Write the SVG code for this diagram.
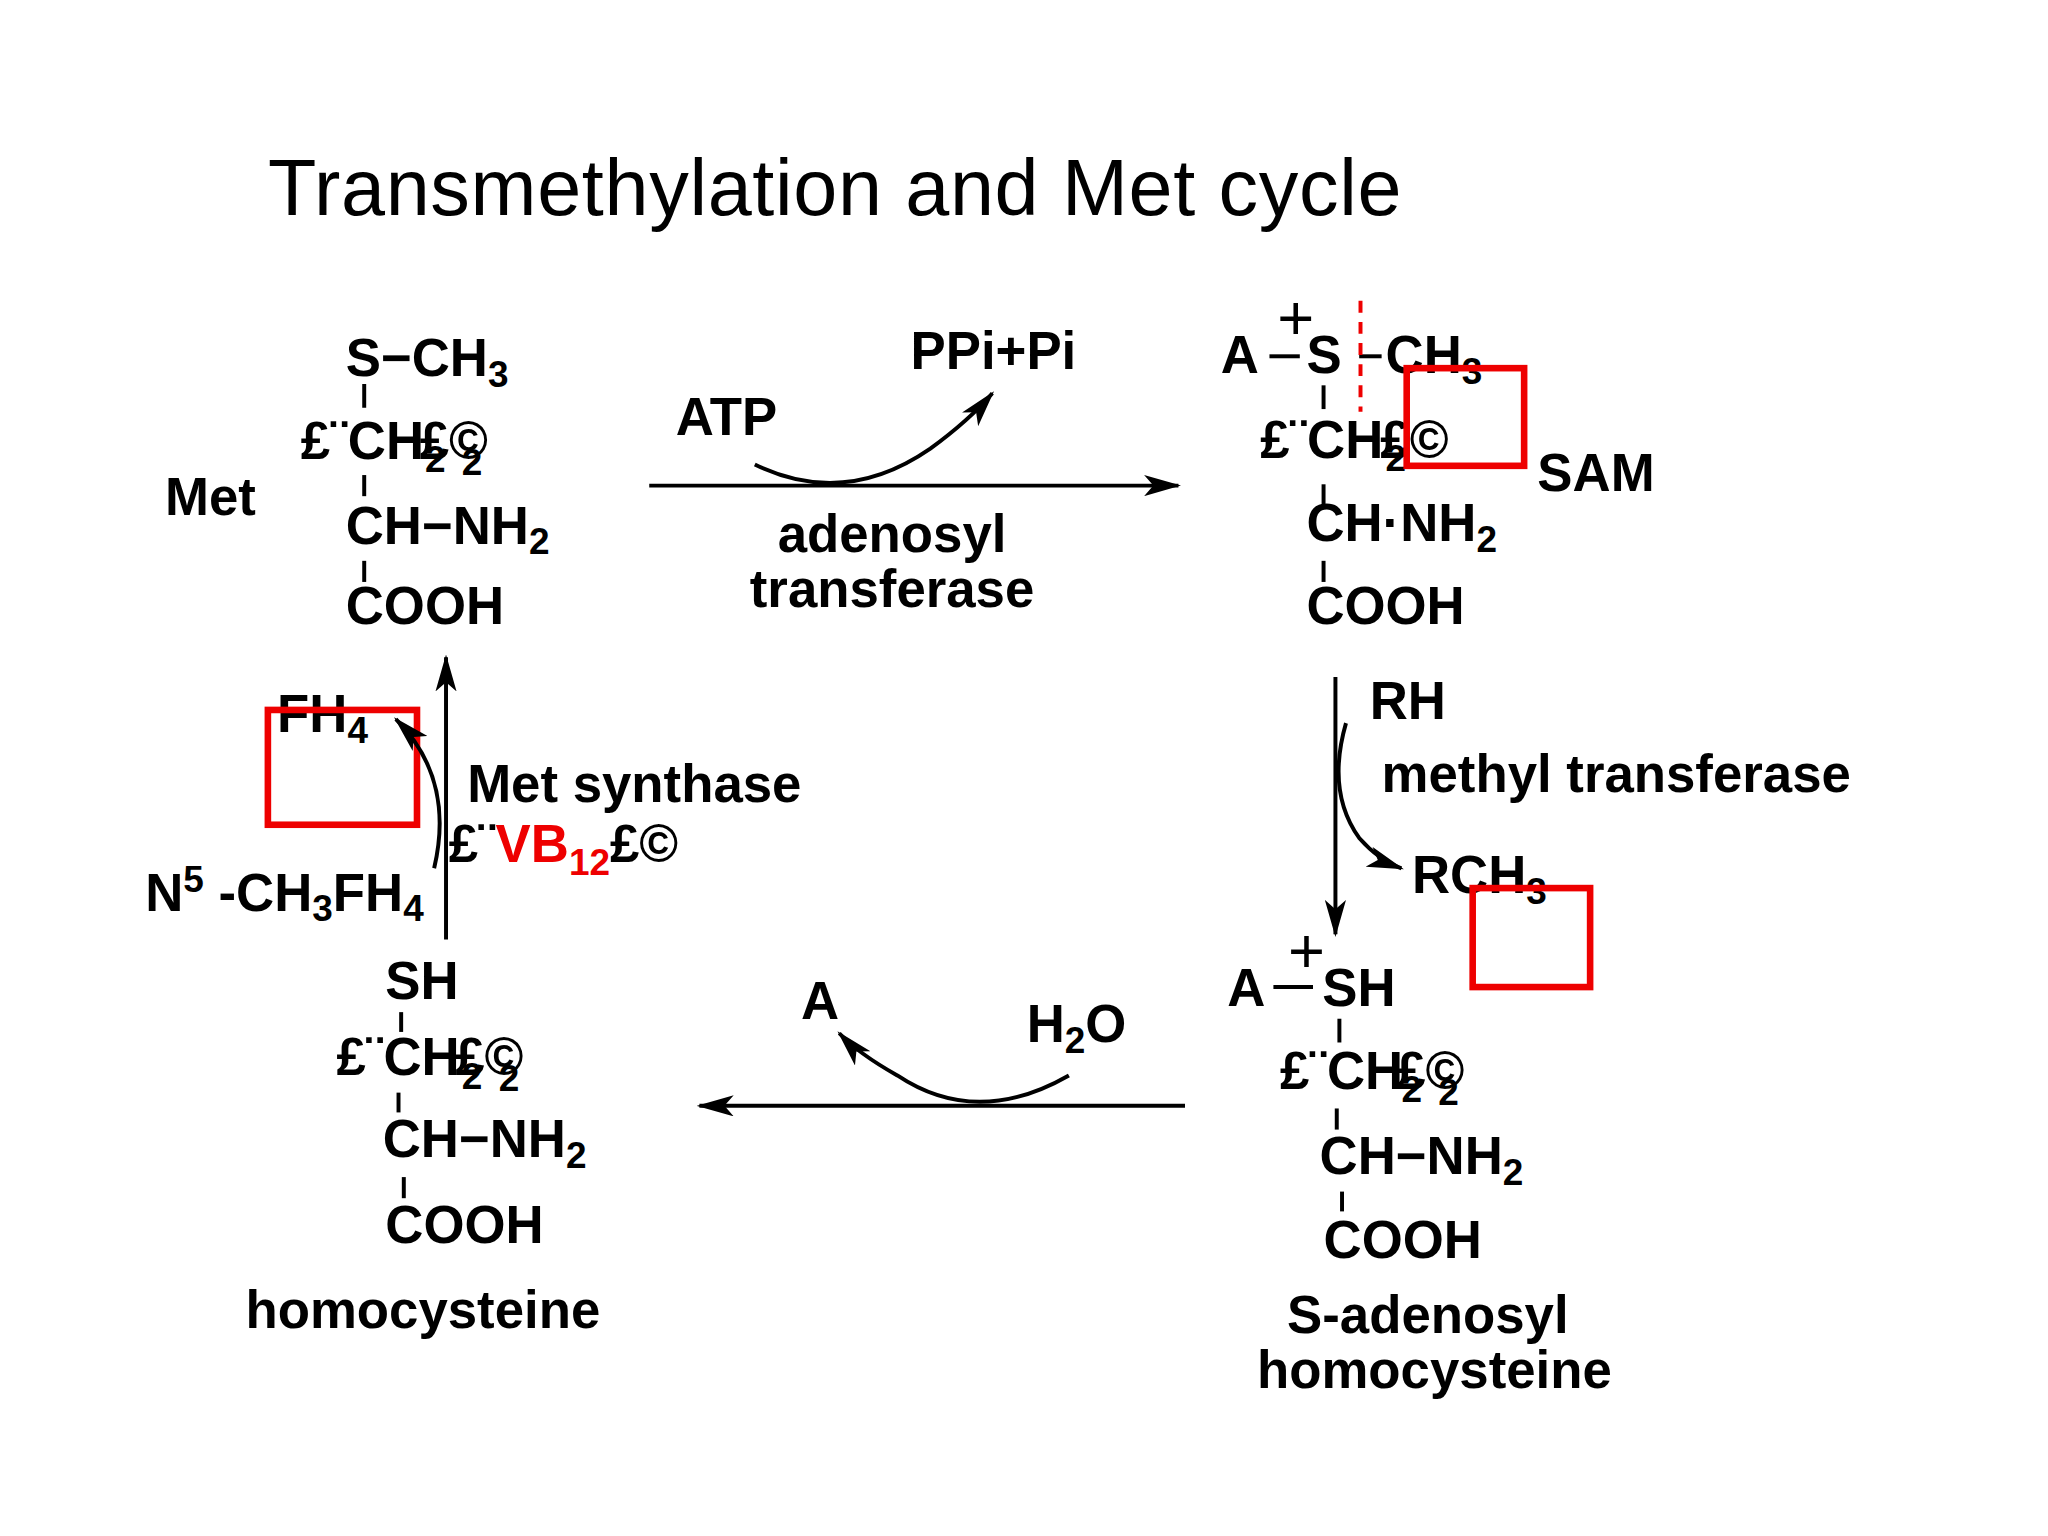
<svg xmlns="http://www.w3.org/2000/svg" width="2048" height="1536" viewBox="0 0 2048 1536">
<defs>
<style>
text{font-family:"Liberation Sans",Arial,sans-serif;font-weight:bold;font-size:40px;fill:#000}
.t{font-weight:normal;font-size:60px}
.s{font-size:28px}
.r{fill:#e00}
.p{font-weight:normal;font-size:48px}
.b{stroke:#000;stroke-width:3;fill:none}
.box{stroke:#e00;stroke-width:5;fill:none}
</style>
<marker id="ah" viewBox="0 0 28 16" refX="26" refY="8" markerWidth="28" markerHeight="16" markerUnits="userSpaceOnUse" orient="auto"><path d="M0,0 L28,8 L0,16 L7,8 Z" fill="#000"/></marker>
</defs>
<rect width="2048" height="1536" fill="#fff"/>
<g transform="scale(1.3196)">
<text class="t" x="203" y="163" textLength="859">Transmethylation and Met cycle</text>

<g id="met">
<text x="125" y="390">Met</text>
<text x="262" y="285">S−CH<tspan class="s" dy="8">3</tspan></text>
<line class="b" x1="276" y1="291" x2="276" y2="309"/>
<text x="228" y="348">£¨CH</text><text class="s" x="322" y="358">2</text><text x="318" y="348">£©</text><text class="s" x="350" y="360">2</text>
<line class="b" x1="276" y1="360" x2="276" y2="376"/>
<text x="262" y="412">CH−NH<tspan class="s" dy="8">2</tspan></text>
<line class="b" x1="276" y1="425" x2="276" y2="441"/>
<text x="262" y="473">COOH</text>
</g>

<g id="sam">
<text x="925" y="283">A</text>
<line class="b" x1="962" y1="270" x2="985" y2="270"/>
<text class="p" x="968" y="258">+</text>
<text x="990" y="283">S</text>
<line class="b" x1="1030" y1="270" x2="1047" y2="270"/>
<line x1="1031" y1="228" x2="1031" y2="312" stroke="#e00" stroke-width="3" stroke-dasharray="9,7"/>
<text x="1050" y="283">CH<tspan class="s" dy="8">3</tspan></text>
<line class="b" x1="1003" y1="292" x2="1003" y2="310"/>
<text x="955" y="347">£¨CH</text><text class="s" x="1050" y="357">2</text><text x="1046" y="347">£©</text>
<line class="b" x1="1003" y1="367" x2="1003" y2="383"/>
<text x="990" y="410">CH·NH<tspan class="s" dy="8">2</tspan></text>
<line class="b" x1="1003" y1="425" x2="1003" y2="441"/>
<text x="990" y="473">COOH</text>
<rect class="box" x="1066" y="279" width="89" height="74"/>
<text x="1165" y="372">SAM</text>
</g>

<g id="sah">
<text class="p" x="976" y="737">+</text>
<text x="930" y="762">A</text>
<line class="b" x1="965" y1="748" x2="995" y2="748"/>
<text x="1002" y="762">SH</text>
<line class="b" x1="1015" y1="772" x2="1015" y2="790"/>
<text x="970" y="825">£¨CH</text><text class="s" x="1062" y="835">2</text><text x="1058" y="825">£©</text><text class="s" x="1090" y="837">2</text>
<line class="b" x1="1013" y1="840" x2="1013" y2="856"/>
<text x="1000" y="890">CH−NH<tspan class="s" dy="8">2</tspan></text>
<line class="b" x1="1017" y1="903" x2="1017" y2="918"/>
<text x="1003" y="953">COOH</text>
<text x="1082" y="1010" text-anchor="middle">S-adenosyl</text>
<text x="1087" y="1052" text-anchor="middle">homocysteine</text>
</g>

<g id="hcy">
<text x="292" y="757">SH</text>
<line class="b" x1="304" y1="767" x2="304" y2="782"/>
<text x="255" y="815">£¨CH</text><text class="s" x="350" y="825">2</text><text x="345" y="815">£©</text><text class="s" x="378" y="827">2</text>
<line class="b" x1="302" y1="828" x2="302" y2="843"/>
<text x="290" y="877">CH−NH<tspan class="s" dy="8">2</tspan></text>
<line class="b" x1="306" y1="892" x2="306" y2="908"/>
<text x="292" y="942">COOH</text>
<text x="186" y="1006">homocysteine</text>
</g>

<g id="labels">
<text x="512" y="330">ATP</text>
<text x="690" y="280">PPi+Pi</text>
<text x="676" y="418" text-anchor="middle">adenosyl</text>
<text x="676" y="460" text-anchor="middle">transferase</text>
<text x="1038" y="545">RH</text>
<text x="1047" y="600">methyl transferase</text>
<text x="1070" y="677">RCH<tspan class="s" dy="8">3</tspan></text>
<rect class="box" x="1116" y="673" width="89" height="75"/>
<text x="607" y="772">A</text>
<text x="778" y="790">H<tspan class="s" dy="8">2</tspan><tspan dy="-8">O</tspan></text>
<text x="210" y="555">FH<tspan class="s" dy="8">4</tspan></text>
<rect class="box" x="203" y="538" width="113" height="87"/>
<text x="354" y="608">Met synthase</text>
<text x="340" y="653">£¨<tspan class="r">VB</tspan><tspan class="s r" dy="10">12</tspan><tspan dy="-10">£©</tspan></text>
<text x="110" y="690">N<tspan class="s" dy="-14">5</tspan><tspan dy="14"> -CH</tspan><tspan class="s" dy="8">3</tspan><tspan dy="-8">FH</tspan><tspan class="s" dy="8">4</tspan></text>
</g>

<g id="connectors">
<line class="b" x1="492" y1="368" x2="893" y2="368" marker-end="url(#ah)"/>
<path class="b" d="M572,352 Q640,385 705,340 Q735,318 752,298" marker-end="url(#ah)"/>
<line class="b" x1="1012" y1="513" x2="1012" y2="708" marker-end="url(#ah)"/>
<path class="b" d="M1020,548 Q1005,600 1030,635 Q1045,652 1062,658" marker-end="url(#ah)"/>
<line class="b" x1="898" y1="838" x2="530" y2="838" marker-end="url(#ah)"/>
<path class="b" d="M810,815 Q740,855 680,815 Q650,798 636,783" marker-end="url(#ah)"/>
<line class="b" x1="338" y1="712" x2="338" y2="498" marker-end="url(#ah)"/>
<path class="b" d="M329,658 Q345,590 300,545" marker-end="url(#ah)"/>
</g>
</g>
</svg>
